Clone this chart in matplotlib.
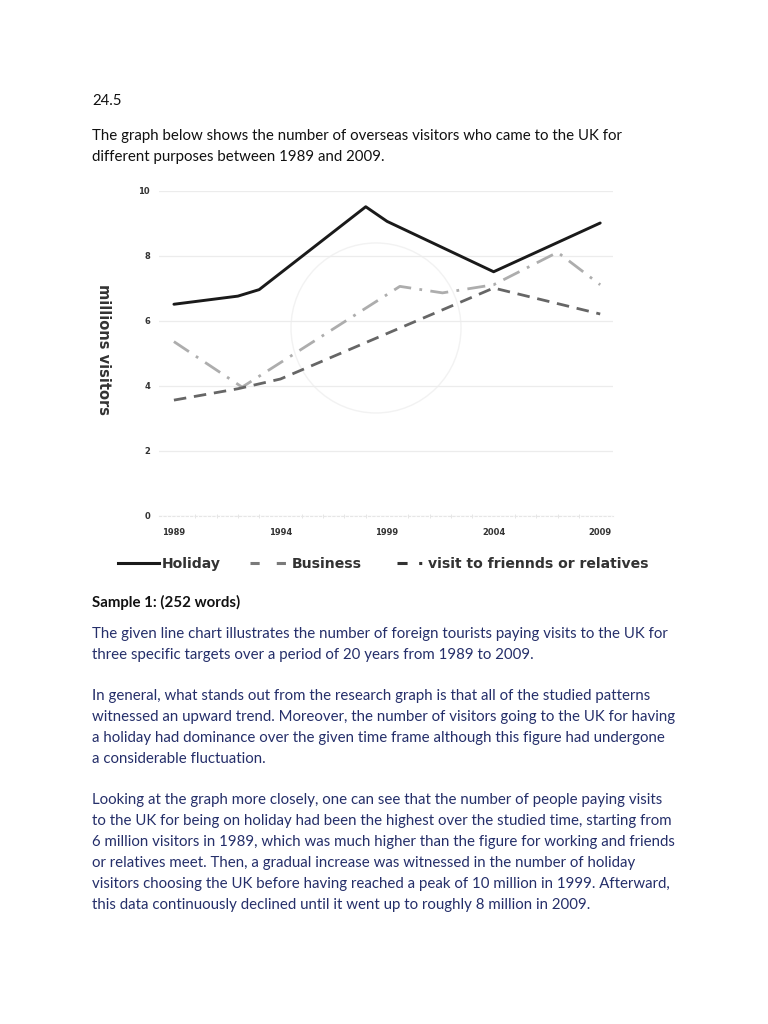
import matplotlib
matplotlib.use("Agg")
import matplotlib.pyplot as plt
from matplotlib.lines import Line2D
from matplotlib.patches import Ellipse

W, H = 768, 1024

# values (millions of visitors)
holiday_years = [1989, 1992, 1993, 1998, 1999, 2004, 2009]
holiday_vals = [6.5, 6.75, 6.95, 9.5, 9.05, 7.5, 9.0]

business_years = [1989, 1992, 1994, 2004, 2009]
business_vals = [3.55, 3.9, 4.2, 7.0, 6.2]

visit_years = [1989, 1992.2, 1999.6, 2001.6, 2004, 2007, 2009]
visit_vals = [5.35, 3.95, 7.05, 6.85, 7.1, 8.1, 7.1]

x_ticks = [1989, 1994, 1999, 2004, 2009]
y_ticks = [0, 2, 4, 6, 8, 10]

header = ["24.5"]
intro = ["The graph below shows the number of overseas visitors who came to the UK for",
         "different purposes between 1989 and 2009."]
sample_title = "Sample 1: (252 words)"
para1 = ["The given line chart illustrates the number of foreign tourists paying visits to the UK for",
         "three specific targets over a period of 20 years from 1989 to 2009."]
para2 = ["In general, what stands out from the research graph is that all of the studied patterns",
         "witnessed an upward trend. Moreover, the number of visitors going to the UK for having",
         "a holiday had dominance over the given time frame although this figure had undergone",
         "a considerable fluctuation."]
para3 = ["Looking at the graph more closely, one can see that the number of people paying visits",
         "to the UK for being on holiday had been the highest over the studied time, starting from",
         "6 million visitors in 1989, which was much higher than the figure for working and friends",
         "or relatives meet. Then, a gradual increase was witnessed in the number of holiday",
         "visitors choosing the UK before having reached a peak of 10 million in 1999. Afterward,",
         "this data continuously declined until it went up to roughly 8 million in 2009."]

BODY = "Lato"
NAVY = "#252f6a"

fig = plt.figure(figsize=(W / 100, H / 100), dpi=100)
fig.patch.set_facecolor("white")


def px_text(x, y, s, **kw):
    fig.text(x / W, 1 - y / H, s, va="center", ha="left", **kw)


def block(lines, y0, color, size=10.8, weight="normal"):
    for i, s in enumerate(lines):
        px_text(92, y0 + 21 * i, s, fontsize=size, color=color, family=BODY, weight=weight)


block(header, 101, "#111111")
block(intro, 136, "#111111")
block([sample_title], 602, "#111111", weight="bold")
block(para1, 634, NAVY)
block(para2, 696, NAVY)
block(para3, 800, NAVY)

# chart area (pixel box of the plot)
left, right, top, bottom = 159, 613, 190.5, 515.5
ax = fig.add_axes([left / W, 1 - bottom / H, (right - left) / W, (bottom - top) / H])
ax.set_xlim(1988.3, 2009.6)
ax.set_ylim(0, 10)

ax.plot(holiday_years, holiday_vals, color="#1a1a1a", lw=2.1, solid_joinstyle="round",
        solid_capstyle="round", label="Holiday", zorder=4)
ax.plot(business_years, business_vals, color="#666666", lw=2.0, dashes=(4.5, 2.8),
        label="Business", zorder=3)
ax.plot(visit_years, visit_vals, color="#adadad", lw=2.0, dashes=(6.5, 3, 1, 3),
        label="visit to friennds or relatives", zorder=2)

ax.set_yticks(y_ticks)
ax.set_xticks(x_ticks)
ax.set_xticks(range(1989, 2010), minor=True)
ax.grid(axis="y", color="#ececec", lw=0.9)
for s in ("top", "right", "left"):
    ax.spines[s].set_visible(False)
ax.spines["bottom"].set_color("#e6e6e6")
ax.spines["bottom"].set_linestyle((0, (2, 2)))
ax.tick_params(axis="y", length=0, pad=6.5, labelsize=6, labelcolor="#333333")
ax.tick_params(axis="x", which="major", length=0, pad=9, labelsize=6, labelcolor="#333333")
ax.tick_params(axis="x", which="minor", length=3, color="#e3e3e3", direction="inout")
for lab in ax.get_xticklabels() + ax.get_yticklabels():
    lab.set_fontweight("bold")
ax.set_facecolor("none")

# faint watermark circle
ax.add_patch(Ellipse((0.478, 0.577), 170 / (right - left), 170 / (bottom - top),
                     transform=ax.transAxes, fill=False, ec="#f2f2f2", lw=1.0, zorder=1))

fig.text(103 / W, 1 - 350 / H, "millions visitors", rotation=270, ha="center", va="center",
         fontsize=10.5, weight="bold", color="#333333")

# legend: three single-entry legends placed like the original
leg_font = {"size": 10.1, "weight": "bold"}
leg_items = [
    (Line2D([], [], color="#1a1a1a", lw=2.2), "Holiday", 118, 2.95, 0.2),
    (Line2D([], [], color="#7a7a7a", lw=2.2, dashes=(3.0, 5.6)), "Business", 250, 2.65, 0.35),
    (Line2D([], [], color="#333333", lw=2.2, dashes=(3.3, 3.8, 1.0, 10)),
     "visit to friennds or relatives", 397, 2.0, 0.2),
]
for handle, text, x0, hl, pad in leg_items:
    leg = fig.legend([handle], [text], loc="center left", bbox_to_anchor=(x0 / W, 1 - 564 / H),
                     frameon=False, handlelength=hl, handletextpad=pad, borderpad=0,
                     borderaxespad=0, prop=leg_font)
    for t in leg.get_texts():
        t.set_color("#333333")

fig.savefig("out.png", dpi=100)
